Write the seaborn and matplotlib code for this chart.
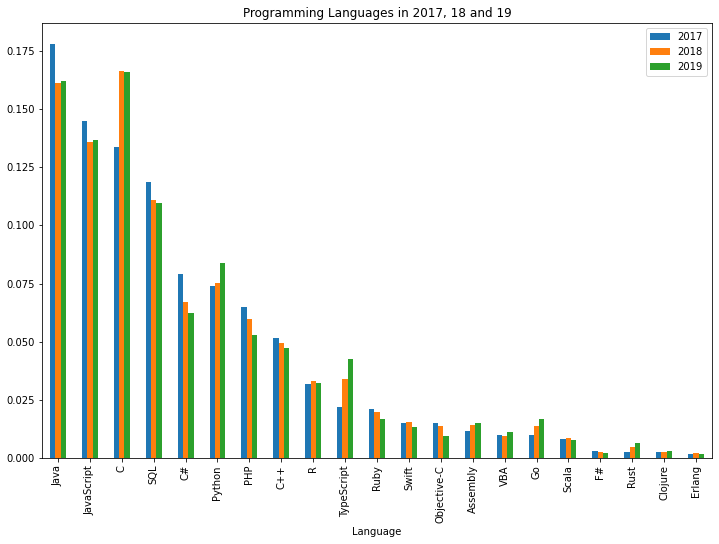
import pandas as pd
import seaborn as sns
import matplotlib.pyplot as plt

# Share of each language per year
languages = ["Java", "JavaScript", "C", "SQL", "C#", "Python", "PHP", "C++", "R",
             "TypeScript", "Ruby", "Swift", "Objective-C", "Assembly", "VBA", "Go",
             "Scala", "F#", "Rust", "Clojure", "Erlang"]
share_2017 = [0.1781, 0.1450, 0.1339, 0.1188, 0.0792, 0.0741, 0.0651, 0.0517, 0.0319,
              0.0221, 0.0212, 0.0152, 0.0152, 0.0117, 0.0100, 0.0100, 0.0083, 0.0031,
              0.0027, 0.0027, 0.0018]
share_2018 = [0.1614, 0.1360, 0.1665, 0.1111, 0.0672, 0.0754, 0.0599, 0.0496, 0.0332,
              0.0341, 0.0199, 0.0156, 0.0139, 0.0143, 0.0096, 0.0139, 0.0087, 0.0027,
              0.0049, 0.0027, 0.0023]
share_2019 = [0.1619, 0.1369, 0.1661, 0.1098, 0.0625, 0.0840, 0.0530, 0.0474, 0.0324,
              0.0427, 0.0169, 0.0135, 0.0096, 0.0152, 0.0113, 0.0169, 0.0079, 0.0023,
              0.0066, 0.0031, 0.0018]
years = ["2017", "2018", "2019"]

# long form table for seaborn
df = pd.DataFrame({"Language": languages, "2017": share_2017,
                   "2018": share_2018, "2019": share_2019})
long_df = df.melt(id_vars="Language", var_name="Year", value_name="Share")

fig = plt.figure(figsize=(719 / 72, 544 / 72), dpi=72)
ax = fig.add_axes([42 / 719, 1 - 458 / 544, 670 / 719, 435 / 544])

sns.barplot(data=long_df, x="Language", y="Share", hue="Year", hue_order=years,
            palette=["#1f77b4", "#ff7f0e", "#2ca02c"], width=0.5, saturation=1, ax=ax)

ax.set_xlim(-0.5, len(languages) - 0.5)
ax.set_ylim(0, 0.187)
ax.set_yticks([0.0, 0.025, 0.05, 0.075, 0.1, 0.125, 0.15, 0.175])
ax.set_yticklabels(["0.000", "0.025", "0.050", "0.075", "0.100", "0.125", "0.150", "0.175"])
plt.xticks(rotation=90)
ax.set_title("Programming Languages in 2017, 18 and 19", fontsize=12)
ax.set_xlabel("Language")
ax.set_ylabel("")
ax.legend(loc="upper right")

fig.savefig("out.png", dpi=72)
